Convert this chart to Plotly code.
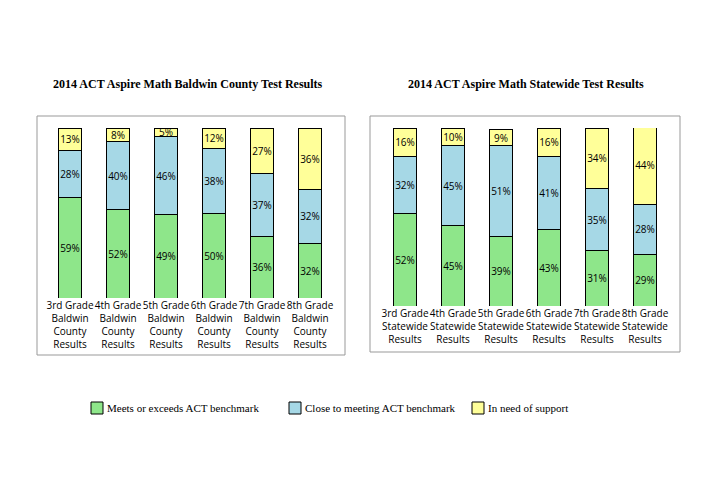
import plotly.graph_objects as go

grades = ["3rd Grade", "4th Grade", "5th Grade", "6th Grade", "7th Grade", "8th Grade"]
county_meets = [59, 52, 49, 50, 36, 32]
county_close = [28, 40, 46, 38, 37, 32]
county_need = [13, 8, 5, 12, 27, 36]
state_meets = [52, 45, 39, 43, 31, 29]
state_close = [32, 45, 51, 41, 35, 28]
state_need = [16, 10, 9, 16, 34, 44]
series_names = ["Meets or exceeds ACT benchmark", "Close to meeting ACT benchmark", "In need of support"]
colors = ["#8EE68A", "#A6D8E6", "#FFFF99"]

county_labels = [g + "<br>Baldwin<br>County<br>Results" for g in grades]
state_labels = [g + "<br>Statewide<br>Results" for g in grades]

W, H, OFF = 705, 484, 8
def px(x): return (x - OFF) / W
def py(y): return 1 - (y - OFF) / H

fig = go.Figure()
for vals, name, c in zip([county_meets, county_close, county_need], series_names, colors):
    fig.add_trace(go.Bar(x=county_labels, y=vals, name=name, marker=dict(color=c, line=dict(color="black", width=1)),
                         text=[f"{v}%" for v in vals], textposition="inside", insidetextanchor="middle",
                         textangle=0, textfont=dict(size=10, color="black"), xaxis="x", yaxis="y", showlegend=False))
for vals, name, c in zip([state_meets, state_close, state_need], series_names, colors):
    fig.add_trace(go.Bar(x=state_labels, y=vals, name=name, marker=dict(color=c, line=dict(color="black", width=1)),
                         text=[f"{v}%" for v in vals], textposition="inside", insidetextanchor="middle",
                         textangle=0, textfont=dict(size=10, color="black"), xaxis="x2", yaxis="y2", showlegend=False))

fig.update_layout(
    width=W, height=H, margin=dict(l=0, r=0, t=0, b=0),
    paper_bgcolor="white", plot_bgcolor="white", barmode="stack", bargap=0.54,
    uniformtext=dict(minsize=10, mode="show"),
    font=dict(family="Open Sans", size=10, color="black"),
    xaxis=dict(domain=[px(46), px(334)], anchor="y", showgrid=False, tickangle=0, ticks="", tickfont=dict(size=10)),
    yaxis=dict(domain=[py(298), py(128)], range=[0, 100], visible=False),
    xaxis2=dict(domain=[px(381), px(669)], anchor="y2", showgrid=False, tickangle=0, ticks="", tickfont=dict(size=10)),
    yaxis2=dict(domain=[py(306), py(128)], range=[0, 100], visible=False),
)

fig.add_shape(type="rect", xref="paper", yref="paper", x0=px(37), x1=px(345), y0=py(355), y1=py(116),
              line=dict(color="#999999", width=1))
fig.add_shape(type="rect", xref="paper", yref="paper", x0=px(370), x1=px(680), y0=py(352), y1=py(116),
              line=dict(color="#999999", width=1))

for x, t in [(188, "2014 ACT Aspire Math Baldwin County Test Results"), (526, "2014 ACT Aspire Math Statewide Test Results")]:
    fig.add_annotation(xref="paper", yref="paper", x=px(x), y=py(84), text=f"<b>{t}</b>", showarrow=False,
                       xanchor="center", yanchor="middle", font=dict(family="Liberation Serif", size=12))

for (lx, tx), name, c in zip([(97, 105), (295, 303), (478, 486)], series_names, colors):
    fig.add_shape(type="rect", xref="paper", yref="paper", x0=px(lx-6), x1=px(lx+6),
                  y0=py(414), y1=py(402), fillcolor=c, line=dict(color="black", width=1))
    fig.add_annotation(xref="paper", yref="paper", x=px(tx), y=py(408), text=name, showarrow=False,
                       xanchor="left", yanchor="middle", font=dict(family="Liberation Serif", size=11))

fig.write_html("out.html")
